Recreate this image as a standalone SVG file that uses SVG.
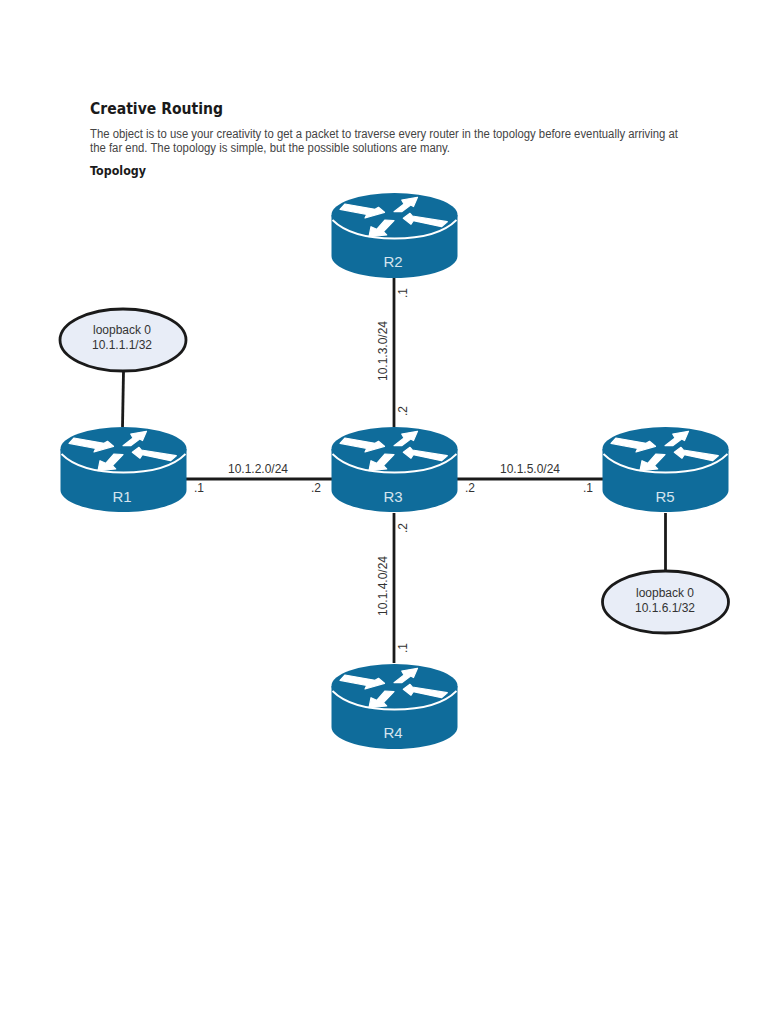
<svg xmlns="http://www.w3.org/2000/svg" width="768" height="1024" viewBox="0 0 768 1024">
<style>
.h{font-family:"DejaVu Sans",sans-serif;font-weight:bold;fill:#1a1a1a}
.p{font-family:"Liberation Sans",Arial,sans-serif;font-size:12px;fill:#444}
.l{font-family:"Liberation Sans",Arial,sans-serif;font-size:12px;fill:#333}
.n{font-family:"Liberation Sans",Arial,sans-serif;font-size:15px;fill:#d5e4ee;text-anchor:middle}
.c{stroke:#1a1a1a;stroke-width:2.800;fill:none}
.e{fill:#e8edf7;stroke:#1a1a1a;stroke-width:2.800}
.m{text-anchor:middle}
</style>
<defs>
<g id="router">
<path d="M-63 0V41C-63 53-35 63 0 63S63 53 63 41V0Z" fill="#0f6c9b"/>
<ellipse cx="0" cy="0" rx="63" ry="22" fill="#0f6c9b"/>
<path d="M-62 5C-50 17-28 23.500 0 23.500S50 17 62 5" fill="none" stroke="#fff" stroke-width="1.800"/>
<g fill="#fff" stroke="#fff" stroke-width="1.200" stroke-linejoin="round">
<polygon points="-49.500,-11 -54.500,-5.700 -27.800,-0.500 -29.500,3 -10,-2.700 -16,-7.700 -19.500,-5.700"/>
<polygon points="-0.500,-3.300 7.200,-3.300 16.200,-10 19,-8.500 23,-17.700 7.200,-15 9.500,-11"/>
<polygon points="8.800,3.300 15.500,-1.700 17.800,1 52.800,6.700 47,11.700 18.800,5.700 16.500,9.300"/>
<polygon points="-25.500,21.700 -23.500,11.700 -17.800,14.300 -9.500,5 -0.500,5.700 -11,16.700 -7.800,20"/>
</g>
</g>
</defs>
<rect width="768" height="1024" fill="#fff"/>
<text class="h" x="90" y="114" font-size="16.500" textLength="133" lengthAdjust="spacingAndGlyphs">Creative Routing</text>
<text class="p" x="90" y="138" textLength="588" lengthAdjust="spacingAndGlyphs">The object is to use your creativity to get a packet to traverse every router in the topology before eventually arriving at</text>
<text class="p" x="90" y="152" textLength="360" lengthAdjust="spacingAndGlyphs">the far end. The topology is simple, but the possible solutions are many.</text>
<text class="h" x="90" y="175" font-size="13" textLength="56" lengthAdjust="spacingAndGlyphs">Topology</text>
<g id="connectors">
<line class="c" x1="394" y1="278" x2="394" y2="427"/>
<line class="c" x1="186" y1="479" x2="332" y2="479"/>
<line class="c" x1="457" y1="479" x2="603" y2="479"/>
<line class="c" x1="394" y1="513" x2="394" y2="663"/>
<line class="c" x1="123.500" y1="371" x2="122.500" y2="427"/>
<line class="c" x1="665.500" y1="513" x2="665.500" y2="571"/>
</g>
<g id="R2"><use href="#router" x="394.500" y="215"/><text class="n" x="393" y="267">R2</text></g>
<g id="R1"><use href="#router" x="123.500" y="449"/><text class="n" x="122" y="502">R1</text></g>
<g id="R3"><use href="#router" x="394.500" y="449"/><text class="n" x="393" y="502">R3</text></g>
<g id="R5"><use href="#router" x="665.500" y="449"/><text class="n" x="665" y="502">R5</text></g>
<g id="R4"><use href="#router" x="394.500" y="686"/><text class="n" x="393" y="738">R4</text></g>
<g id="loopback1"><ellipse class="e" cx="123" cy="340" rx="63" ry="31"/><text class="l m" x="122" y="334">loopback 0</text><text class="l m" x="122" y="349">10.1.1.1/32</text></g>
<g id="loopback5"><ellipse class="e" cx="665.500" cy="602" rx="63" ry="31"/><text class="l m" x="665" y="597">loopback 0</text><text class="l m" x="665" y="612">10.1.6.1/32</text></g>
<g id="labels">
<text class="l m" x="258" y="473">10.1.2.0/24</text>
<text class="l m" x="530" y="473">10.1.5.0/24</text>
<text class="l" x="194" y="492">.1</text>
<text class="l" x="311" y="492">.2</text>
<text class="l" x="465" y="492">.2</text>
<text class="l" x="583" y="492">.1</text>
<text class="l m" transform="translate(387 351) rotate(-90)">10.1.3.0/24</text>
<text class="l m" transform="translate(387 586) rotate(-90)">10.1.4.0/24</text>
<text class="l" transform="translate(407 298) rotate(-90)">.1</text>
<text class="l" transform="translate(407 416) rotate(-90)">.2</text>
<text class="l" transform="translate(407 533) rotate(-90)">.2</text>
<text class="l" transform="translate(407 653) rotate(-90)">.1</text>
</g>
</svg>
